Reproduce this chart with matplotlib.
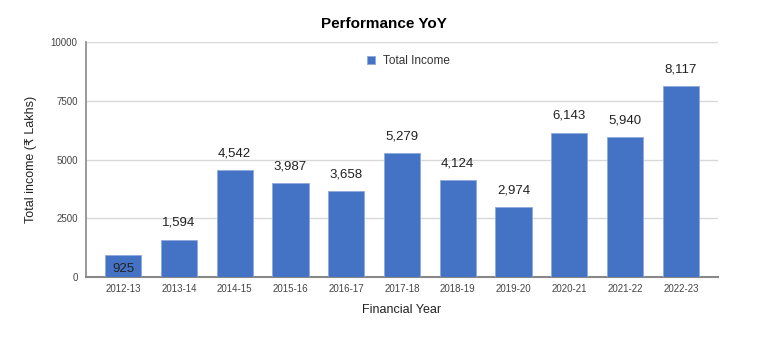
import matplotlib.pyplot as plt
import numpy as np

plt.rcParams['font.family'] = ['Liberation Sans', 'DejaVu Sans']

years = ['2012-13', '2013-14', '2014-15', '2015-16', '2016-17', '2017-18',
         '2018-19', '2019-20', '2020-21', '2021-22', '2022-23']
income = [925, 1594, 4542, 3987, 3658, 5279, 4124, 2974, 6143, 5940, 8117]
yticks = [0, 2500, 5000, 7500, 10000]

blue = '#4472c4'

fig = plt.figure(figsize=(7.68, 3.37), dpi=100)
ax = fig.add_axes([86 / 768, 60 / 337, 632 / 768, 235 / 337])

x = np.arange(len(years))
ax.bar(x, income, width=0.65, color=blue, edgecolor='#8fa9dc', linewidth=0.6,
       label='Total Income', zorder=3)

for xi, v in zip(x, income):
    txt = f'{v:,}'
    if v < 1000:
        ax.text(xi, v / 2 - 120, txt, ha='center', va='center', fontsize=9.5,
                color='#222222', zorder=4)
    else:
        ax.text(xi, v + 720, txt, ha='center', va='center', fontsize=9.5,
                color='#222222')

ax.set_xlim(-0.665, len(years) - 1 + 0.665)
ax.set_ylim(0, 10000)
ax.set_yticks(yticks)
ax.set_yticklabels([str(t) for t in yticks])
ax.set_xticks(x)
ax.set_xticklabels(years)
ax.tick_params(axis='both', length=0, labelsize=7, colors='#444444')
ax.tick_params(axis='y', pad=6)
ax.tick_params(axis='x', pad=5)
ax.grid(axis='y', color='#d9d9d9', linewidth=1, zorder=0)

for s in ['top', 'right']:
    ax.spines[s].set_visible(False)
ax.spines['left'].set_color('#888888')
ax.spines['left'].set_linewidth(1.2)
ax.spines['bottom'].set_color('#888888')
ax.spines['bottom'].set_linewidth(1.5)

ax.set_xlabel('Financial Year', fontsize=9, color='#222222', labelpad=7)
ax.set_ylabel('Total income (₹ Lakhs)', fontsize=9, color='#222222', labelpad=10)

fig.text(0.5, 0.928, 'Performance YoY', ha='center', va='center', fontsize=11,
         fontweight='bold', color='#000000')

ax.legend(loc='upper center', bbox_to_anchor=(0.51, 0.99), frameon=False,
          fontsize=8.5, handlelength=0.7, handleheight=0.7, handletextpad=0.6,
          labelcolor='#333333')

fig.savefig('out.png', dpi=100)
